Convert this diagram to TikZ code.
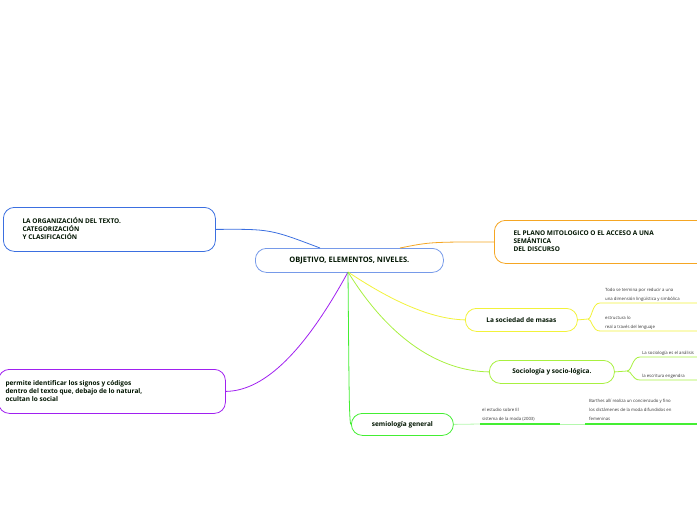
\documentclass[tikz,border=0pt]{standalone}
\usepackage{fontspec}
\setmainfont{Open Sans}
\begin{document}
\begin{tikzpicture}[x=1pt,y=-1pt,
  box/.style={draw,rounded corners=11pt,line width=0.8pt,inner sep=0pt,anchor=north west},
  ttl/.style={font=\fontsize{6.5}{8}\selectfont\bfseries,text=black!80!green!40!black,align=left},
  leaf/.style={font=\fontsize{4.3}{9}\selectfont,text=black!80,align=left,anchor=south west,inner sep=1pt},
  conn/.style={line width=0.8pt}]
\useasboundingbox (0,0) rectangle (697,520);
\clip (0,0) rectangle (697,520);
\definecolor{cb}{HTML}{3B6FE0}
\definecolor{cor}{HTML}{F5A623}
\definecolor{cpu}{HTML}{A020F0}
\definecolor{cye}{HTML}{F2F23A}
\definecolor{clg}{HTML}{A8F040}
\definecolor{cgr}{HTML}{44EE33}
% nodes
\node[box,draw=cb!70,minimum width=188pt,minimum height=24pt] (c) at (255,248) {};
\node[ttl,font=\fontsize{7.5}{9}\selectfont\bfseries] at (c.center) {OBJETIVO, ELEMENTOS, NIVELES.};
\node[box,draw=cb,minimum width=212pt,minimum height=44pt] (a) at (3,207) {};
\node[ttl,anchor=west] at (19,229) {LA ORGANIZACIÓN DEL TEXTO.\\CATEGORIZACIÓN\\Y CLASIFICACIÓN};
\node[box,draw=cpu,minimum width=227pt,minimum height=44pt] (p) at (-2,369) {};
\node[ttl,anchor=west] at (2,391) {permite identificar los signos y códigos\\dentro del texto que, debajo de lo natural,\\ocultan lo social};
\node[box,draw=cor,minimum width=215pt,minimum height=43pt] (o) at (494,220) {};
\node[ttl,anchor=west] at (510,241.5) {EL PLANO MITOLOGICO O EL ACCESO A UNA\\SEMÁNTICA\\DEL DISCURSO};
\node[box,draw=cye,minimum width=112pt,minimum height=23pt] (y) at (465,308) {};
\node[ttl] at (y.center) {La sociedad de masas};
\node[box,draw=clg,minimum width=125pt,minimum height=23pt] (s) at (489,360) {};
\node[ttl] at (s.center) {Sociología y socio-lógica.};
\node[box,draw=cgr,minimum width=102pt,minimum height=22pt] (g) at (351,413) {};
\node[ttl] at (g.center) {semiología general};
% connectors
\coordinate (cb) at (348,272);
\draw[conn,cb] (a.east) .. controls (270,229) .. (320,248);
\draw[conn,cor] (400,248) .. controls (430,242) .. (o.west);
\draw[conn,cpu] (cb) .. controls (300,360) and (260,391) .. (p.east);
\draw[conn,cye] (cb) .. controls (390,300) and (430,319) .. (y.west);
\draw[conn,clg] (cb) .. controls (390,340) and (440,371) .. (s.west);
\draw[conn,cgr] (cb) .. controls (349,380) and (349,424) .. (g.west);
% yellow leaves
\coordinate (ye) at (y.east);
\draw[conn,cye] (ye) -- (588,319) .. controls (592,319) and (592,303) .. (600,303) -- (697,303);
\draw[conn,cye] (588,319) .. controls (592,319) and (592,331) .. (600,331) -- (697,331);
\node[leaf] at (604,303) {Todo se termina por reducir a una\\una dimensión lingüística y simbólica};
\node[leaf] at (604,331) {estructura lo\\real a través del lenguaje};
% sociologia leaves
\coordinate (se) at (s.east);
\draw[conn,clg] (se) -- (627,371) .. controls (632,371) and (632,357) .. (640,357) -- (697,357);
\draw[conn,clg] (627,371) .. controls (632,371) and (632,380) .. (640,380) -- (697,380);
\node[leaf] at (641,357) {La sociología es el análisis};
\node[leaf] at (641,380) {la escritura engendra};
% semiologia leaves
\coordinate (ge) at (g.east);
\draw[conn,cgr!40] (ge) -- (480,424);
\draw[line width=1.3pt,cgr] (480,424) -- (560,424);
\draw[conn,cgr!40] (560,424) -- (585,424);
\draw[line width=1.3pt,cgr] (585,424) -- (697,424);
\node[leaf] at (481,422) {el estudio sobre El\\sistema de la moda (2003)};
\node[leaf] at (588,422) {Barthes allí realiza un concienzudo y fino\\los dictámenes de la moda difundidos en\\femeninas};
\end{tikzpicture}
\end{document}
